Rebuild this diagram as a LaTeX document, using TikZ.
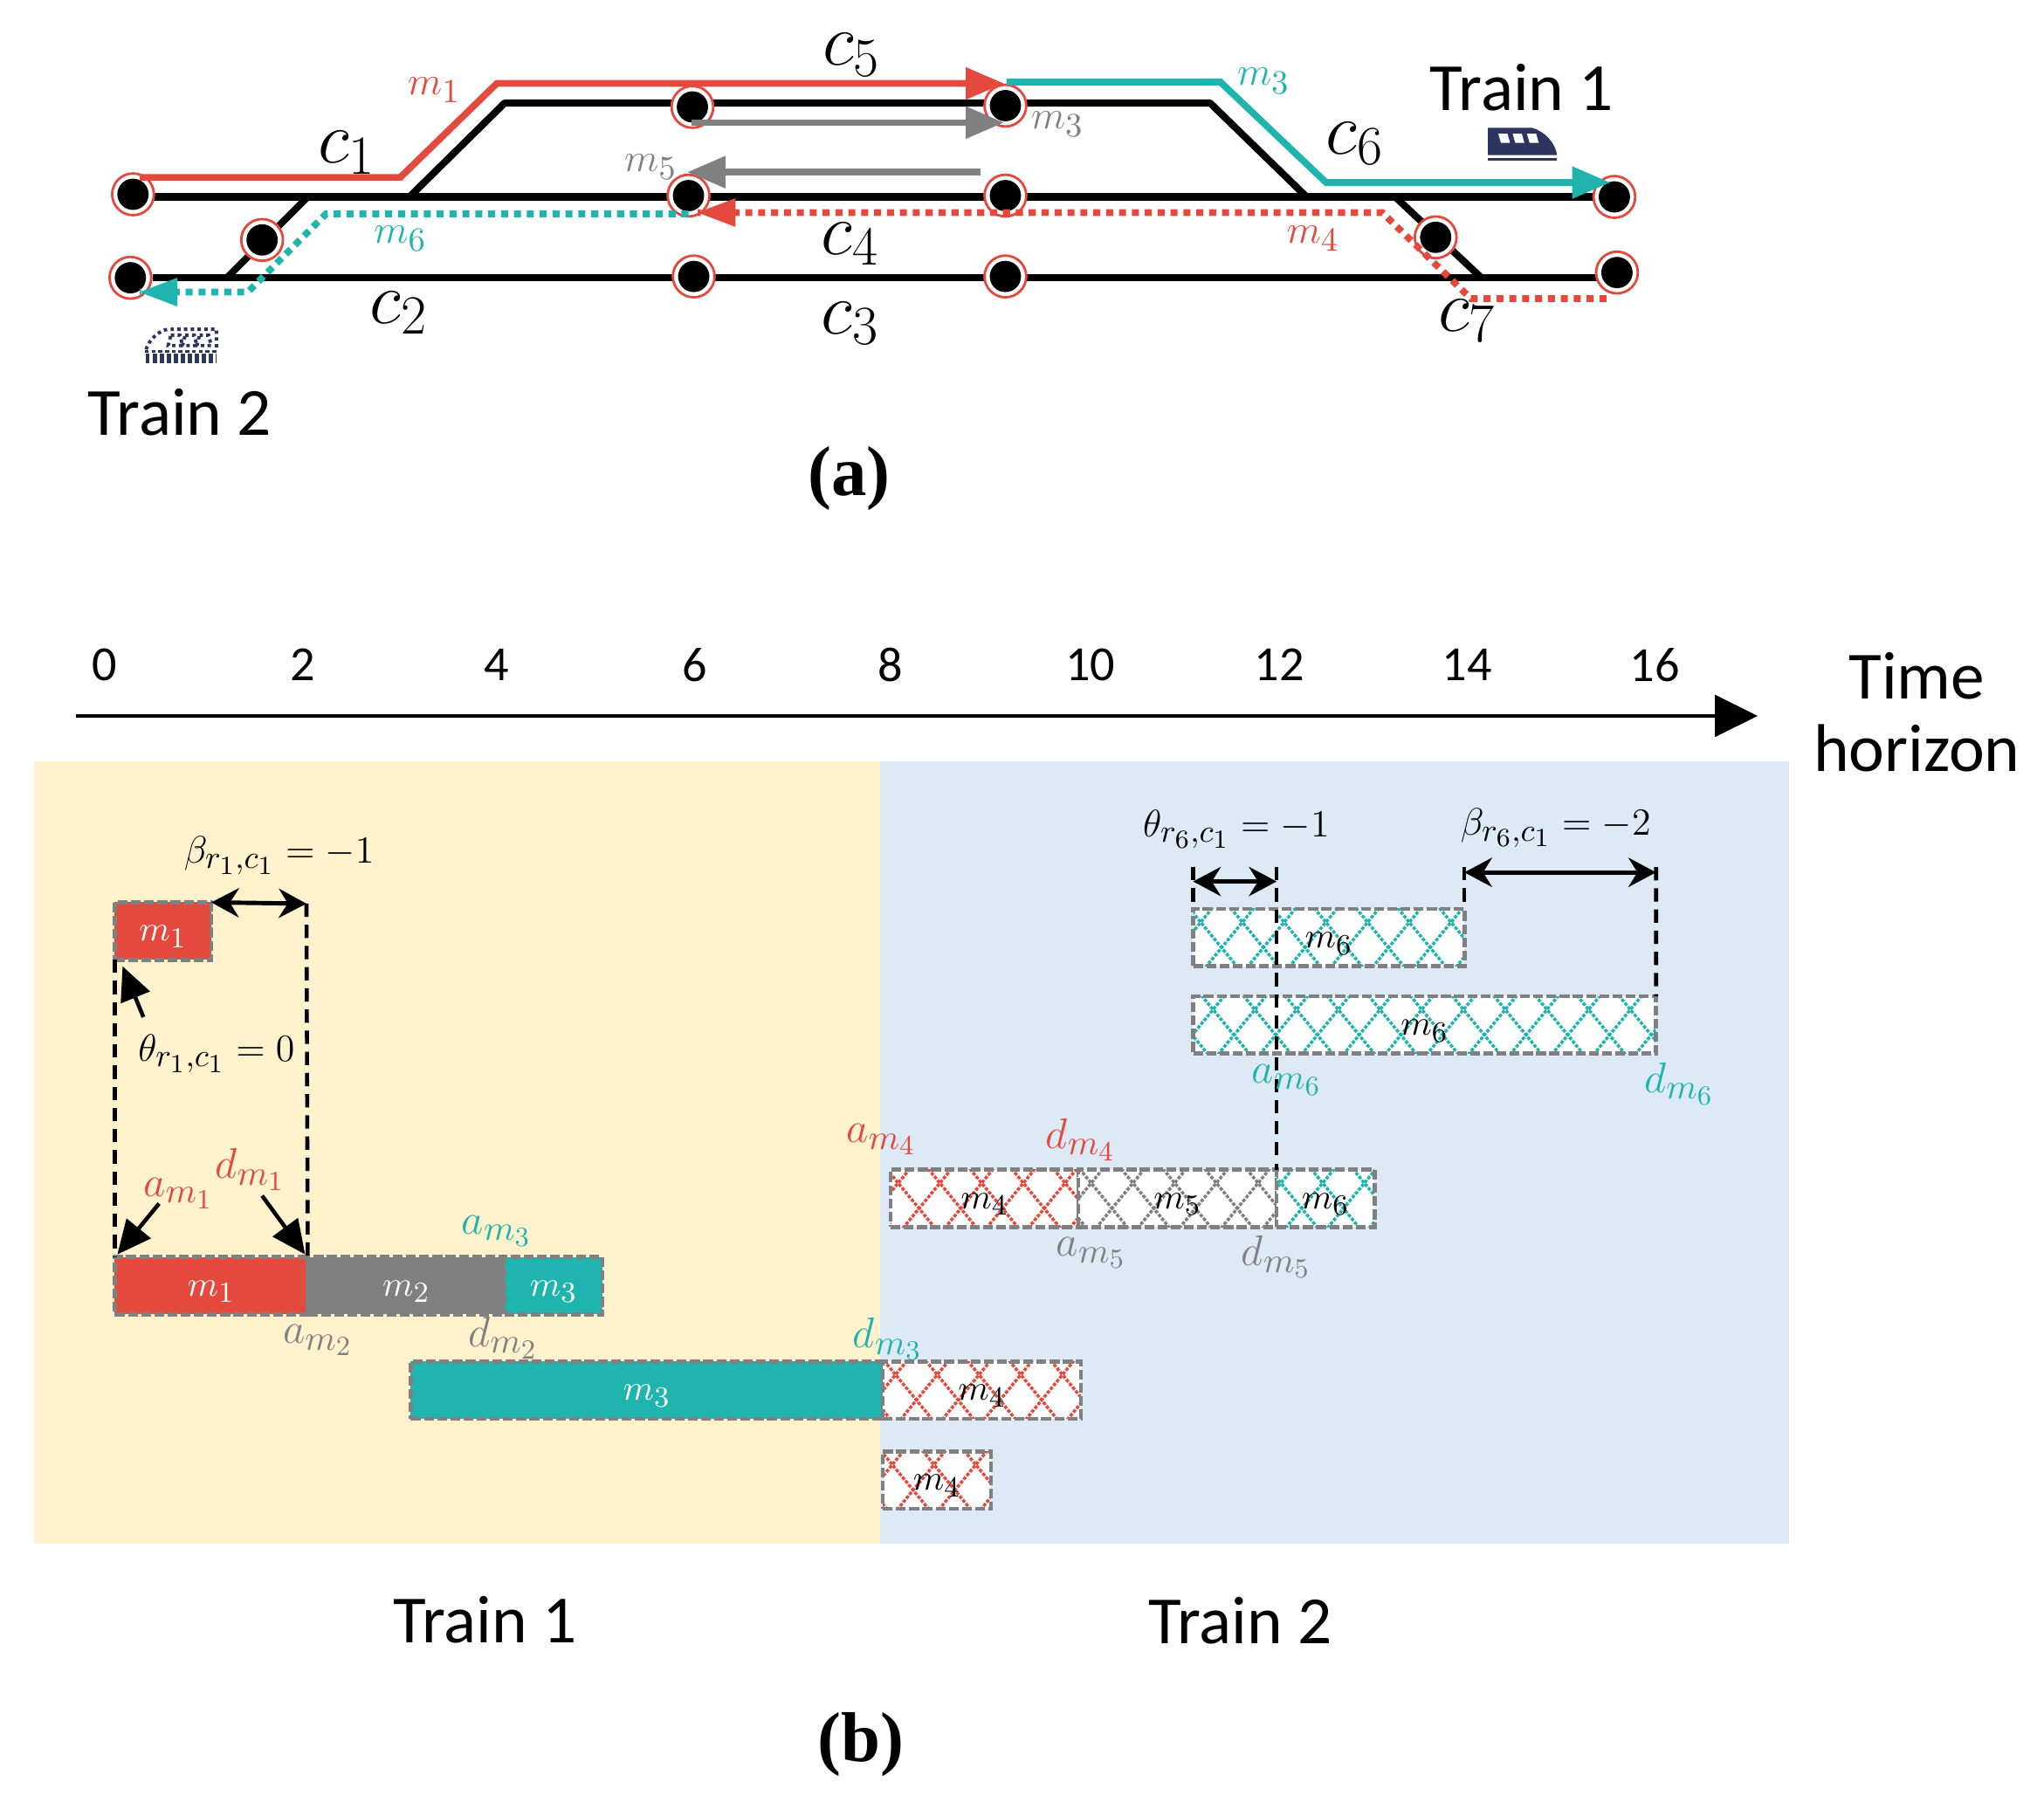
\RequirePackage{fix-cm}
\documentclass[tikz,border=0pt]{standalone}
\usepackage[no-math]{fontspec}
\usepackage{tikz}
\usetikzlibrary{positioning,arrows.meta,backgrounds}

\newfontfamily\labelfont{Carlito}
\newfontfamily\capfont{Liberation Serif}
\newlength{\du}
\setlength{\du}{0.014934cm}

% larger subscripts
\DeclareMathSizes{24}{24}{18}{14}
\DeclareMathSizes{13}{13}{11}{9}
\DeclareMathSizes{14}{14}{11.5}{9}
\DeclareMathSizes{12.5}{12.5}{10.5}{8.5}
\DeclareMathSizes{11.5}{11.5}{9.5}{7.5}

\definecolor{trred}{HTML}{E34A3D}
\definecolor{trteal}{HTML}{20B4AE}
\definecolor{trgray}{HTML}{808080}
\definecolor{trnavy}{HTML}{2B3560}
\definecolor{bgyellow}{HTML}{FFF2CC}
\definecolor{bgblue}{HTML}{DEE9F6}

\begin{document}
\begin{tikzpicture}[x=0.014934cm, y=-0.014934cm,
    station/.style={circle, draw=trred, line width=0.8pt, fill=white, minimum size=32\du, inner sep=0pt,
      path picture={\fill[black] (path picture bounding box.center) circle (12\du);}},
    track/.style={line width=2.3pt, line join=bevel},
    route/.style={line width=2.2pt, line join=miter},
    dotroute/.style={route, dash pattern=on 2.3pt off 1.9pt},
    routetip/.style={-{Triangle[length=12.5pt, width=10pt]}},
    cname/.style={font=\fontsize{24}{26}\selectfont, inner sep=0pt},
    mname/.style={font=\fontsize{13}{15}\selectfont, inner sep=0pt},
    timelabel/.style={font=\labelfont\fontsize{16}{20}\selectfont, inner sep=0pt},
    trainlabel/.style={font=\labelfont\fontsize{22}{26}\selectfont, inner sep=0pt, align=center},
    caption/.style={font=\capfont\bfseries\fontsize{23}{26}\selectfont, inner sep=0pt},
    bar/.style={draw=trgray, line width=1.35pt, dash pattern=on 3.2pt off 1.1pt, minimum height=44\du,
      inner sep=0pt, outer sep=0pt, text height=7.6pt, text depth=1pt, font=\fontsize{11.5}{14}\selectfont},
    solidbar/.style={bar, fill=#1, text=white},
    hatchbar/.style={bar, fill=white, path picture={
        \begin{scope}[shift={(path picture bounding box.north west)}]
          \foreach \k in {-6,...,18} {
            \draw[#1, line width=1pt, dash pattern=on 1.1pt off 0.5pt] (32*\k-65.6,-80) -- ++(131.2,160);
            \draw[#1, line width=1pt, dash pattern=on 1.1pt off 0.5pt] (32*\k+65.6,-80) -- ++(-131.2,160);
          };
        \end{scope}}},
    timemark/.style={font=\fontsize{14}{18}\selectfont, inner sep=0pt},
    dimlabel/.style={font=\fontsize{12.5}{16}\selectfont, inner sep=0pt},
    guide/.style={line width=1.3pt, dash pattern=on 4.3pt off 2.6pt},
    span/.style={line width=1.4pt, {Stealth[length=9pt, width=9.5pt]}-{Stealth[length=9pt, width=9.5pt]}},
    pointer/.style={line width=1.3pt, -{Triangle[length=11pt, width=10pt]}}
    ]
    \useasboundingbox (0,0) rectangle (1567.5,1376.7);

    % (a) stations
    \node[station] (n1) at (102,149) {};
    \node[station] (n2) at (201,184) {};
    \node[station] (n3) at (100,213) {};
    \node[station] (n4) at (531,82) {};
    \node[station] (n5) at (771,81) {};
    \node[station] (n6) at (528,150) {};
    \node[station] (n7) at (771,150) {};
    \node[station] (n8) at (532,212) {};
    \node[station] (n9) at (771,212) {};
    \node[station] (n10) at (1101,182) {};
    \node[station] (n11) at (1238,151) {};
    \node[station] (n12) at (1240,209) {};

    % track bends
    \coordinate (up1) at (314,151);
    \coordinate (up2) at (387,79);
    \coordinate (up3) at (928,79);
    \coordinate (up4) at (1002,151);
    \coordinate (lo1) at (236,151);
    \coordinate (lo2) at (174,213);
    \coordinate (lo3) at (1070,151);
    \coordinate (lo4) at (1136,213);

    \begin{scope}[on background layer]
      \draw[track] (n1 |- n11) -- (n11);
      \draw[track] (n3) -- (n3 -| n12);
      \draw[track] (up1) -- (up2) -- (up3) -- (up4);
      \draw[track] (lo1) -- (lo2);
      \draw[track] (lo3) -- (lo4);
    \end{scope}

    % (a) movements
    \coordinate (r1a) at (107,136);
    \coordinate (r1b) at (307,136);
    \coordinate (r1c) at (381,64);
    \coordinate (r1d) at (770,64);
    \draw[route, trred, routetip] (r1a) -- (r1b) -- (r1c) -- (r1d);
    \coordinate (r3a) at (772,63);
    \coordinate (r3b) at (936,63);
    \coordinate (r3c) at (1017,140);
    \coordinate (r3d) at (1235,140);
    \draw[route, trteal, routetip] (r3a) -- (r3b) -- (r3c) -- (r3d);
    \coordinate (g1a) at (530,94);
    \coordinate (g1b) at (770,94);
    \draw[route, trgray, routetip] (g1a) -- (g1b);
    \coordinate (g2a) at (752,132);
    \coordinate (g2b) at (527,132);
    \draw[route, trgray, routetip] (g2a) -- (g2b);
    \coordinate (r4a) at (1232,229);
    \coordinate (r4b) at (1128,229);
    \coordinate (r4c) at (1060,163);
    \coordinate (r4d) at (535,163);
    \draw[dotroute, trred] (r4a) -- (r4b) -- (r4c) -- (r4d);
    \fill[trred] (r4d) -- ++(29,-11) -- ++(0,22) -- cycle;
    \coordinate (r6a) at (528,164);
    \coordinate (r6b) at (250,164);
    \coordinate (r6c) at (190,224);
    \coordinate (r6d) at (107,224);
    \draw[dotroute, trteal] (r6a) -- (r6b) -- (r6c) -- (r6d);
    \fill[trteal] (r6d) -- ++(29,-11) -- ++(0,22) -- cycle;

    \node[cname] (c1) at (266,117) {$c_1$};
    \node[cname] (c2) at (306,240) {$c_2$};
    \node[cname] (c3) at (652,248) {$c_3$};
    \node[cname] (c4) at (652,187) {$c_4$};
    \node[cname] (c5) at (653,42) {$c_5$};
    \node[cname] (c6) at (1039,110) {$c_6$};
    \node[cname] (c7) at (1125,246) {$c_7$};

    \node[mname, text=trred] (lm1) at (333,69) {$m_1$};
    \node[mname, text=trteal] (lm3) at (969,62) {$m_3$};
    \node[mname, text=trgray] (lm3b) at (811,95) {$m_3$};
    \node[mname, text=trgray] (lm5) at (499,128) {$m_5$};
    \node[mname, text=trteal] (lm6) at (307,183) {$m_6$};
    \node[mname, text=trred] (lm4) at (1007,183) {$m_4$};

    \node[trainlabel] (train1) at (1167,67) {Train 1};
    \node[trainlabel] (train2) at (138,316) {Train 2};
    \node[caption] (capa) at (651,367) {(a)};

    % train icons
    \begin{scope}[shift={(1141,98)}]
      \fill[trnavy] (0,0) -- (34,0) .. controls (44,3) and (52,12) .. (53,21) -- (0,21) -- cycle;
      \fill[trnavy] (0,23.5) rectangle (53,25.5);
      \foreach \wx in {8,19,30} {
        \fill[white] (\wx,4.5) -- (\wx+7,4.5) -- (\wx+9,11.5) -- (\wx+2,11.5) -- cycle;
      };
    \end{scope}
    \begin{scope}[shift={(111,251)}]
      \draw[trnavy, line width=1.1pt, dash pattern=on 1.1pt off 1.1pt] (1,17) .. controls (3,10) and (11,2) .. (18,1.5) -- (55,1.5) -- (55,17);
      \foreach \wx in {20,31,42} {
        \draw[trnavy, line width=1.1pt, dash pattern=on 1.1pt off 1.1pt] (\wx,6) -- (\wx+7,6) -- (\wx+9,14) -- (\wx-2,14) -- cycle;
      };
      \draw[trnavy, line width=1.1pt, dash pattern=on 1.3pt off 0.9pt] (0,18.5) -- (56,18.5);
      \draw[trnavy, line width=3.2pt, dash pattern=on 1.4pt off 0.9pt] (0.5,24) -- (55,24);
    \end{scope}

    % (b) time axis
    \coordinate (axis0) at (58,549);
    \coordinate (axis1) at (1348,549);
    \draw[line width=1.3pt, -{Triangle[length=14pt, width=13.5pt]}] (axis0) to (axis1);
    \foreach \tlabel/\tx in {0/80,2/232,4/381,6/533,8/683,10/836,12/981,14/1125,16/1269} {
      \node[timelabel] (t\tlabel) at (\tx,510) {\tlabel};
    };
    \node[trainlabel] (horizon) at (1470,546) {Time\\[-2.5pt] horizon};

    % (b) panels
    \node[fill=bgyellow, anchor=north west, minimum width=649\du, minimum height=600\du, inner sep=0pt, outer sep=0pt] (panel1) at (26,584) {};
    \node[fill=bgblue, anchor=north west, minimum width=697\du, minimum height=600\du, inner sep=0pt, outer sep=0pt] (panel2) at (675,584) {};

    % Train 1 bars
    \node[solidbar=trred, anchor=north west, minimum width=74\du] (a1) at (88,692) {$m_1$};
    \node[solidbar=trred, anchor=north west, minimum width=148\du] (b1) at (88,964) {$m_1$};
    \node[solidbar=trgray, right=0pt of b1, minimum width=151\du] (b2) {$m_2$};
    \node[solidbar=trteal, right=0pt of b2, minimum width=75\du] (b3) {$m_3$};
    \node[solidbar=trteal, anchor=north west, minimum width=362\du] (d3) at (315,1044) {$m_3$};

    % Train 2 bars
    \node[hatchbar=trred, right=0pt of d3, minimum width=152\du] (d4) {$m_4$};
    \node[hatchbar=trred, anchor=north west, minimum width=83\du] (e4) at (677,1113) {$m_4$};
    \node[hatchbar=trred, anchor=north west, minimum width=144\du] (c4b) at (683,897) {$m_4$};
    \node[hatchbar=trgray, right=0pt of c4b, minimum width=152\du] (c5b) {$m_5$};
    \node[hatchbar=trteal, right=0pt of c5b, minimum width=75\du] (c6b) {$m_6$};
    \node[hatchbar=trteal, anchor=north west, minimum width=208\du] (f6) at (915,697) {$m_6$};
    \node[hatchbar=trteal, anchor=north west, minimum width=355\du] (g6) at (915,764) {$m_6$};

    % guides
    \coordinate (top1) at (235,693);
    \coordinate (top2) at (915,665);
    \coordinate (top3) at (979,665);
    \coordinate (top4) at (1123,665);
    \coordinate (top5) at (1270,665);
    \draw[guide] (a1.south west) to (b1.north west);
    \draw[guide] (top1) to (b1.north east);
    \draw[guide] (top2) to (f6.north west);
    \draw[guide] (top3) to (c5b.north east);
    \draw[guide] (top4) to (f6.north east);
    \draw[guide] (top5) to (g6.north east);

    \coordinate (sp1) at (915,676);
    \coordinate (sp2) at (979,676);
    \coordinate (sp3) at (1123,669);
    \coordinate (sp4) at (1270,669);
    \draw[span] (a1.north east) to (top1);
    \draw[span] (sp1) to (sp2);
    \draw[span] (sp3) to (sp4);

    \coordinate (pt1) at (110,780);
    \coordinate (pt2) at (94,741);
    \coordinate (pt3) at (122,923);
    \coordinate (pt4) at (90,962);
    \coordinate (pt5) at (201,917);
    \coordinate (pt6) at (234,962);
    \draw[pointer] (pt1) to (pt2);
    \draw[pointer] (pt3) to (pt4);
    \draw[pointer] (pt5) to (pt6);

    \node[dimlabel] (beta1) at (214,656) {$\beta_{r_1,c_1}=-1$};
    \node[dimlabel] (theta1) at (166,808) {$\theta_{r_1,c_1}=0$};
    \node[dimlabel] (theta6) at (948,636) {$\theta_{r_6,c_1}=-1$};
    \node[dimlabel] (beta6) at (1193,635) {$\beta_{r_6,c_1}=-2$};

    \node[timemark, text=trred] (am1) at (137,915) {$a_{m_1}$};
    \node[timemark, text=trred] (dm1) at (192,897) {$d_{m_1}$};
    \node[timemark, text=trgray] (am2) at (244,1028) {$a_{m_2}$};
    \node[timemark, text=trgray] (dm2) at (386,1026) {$d_{m_2}$};
    \node[timemark, text=trteal] (am3) at (381,944) {$a_{m_3}$};
    \node[timemark, text=trteal] (dm3) at (681,1027) {$d_{m_3}$};
    \node[timemark, text=trred] (am4) at (676,874) {$a_{m_4}$};
    \node[timemark, text=trred] (dm4) at (829,874) {$d_{m_4}$};
    \node[timemark, text=trgray] (am5) at (837,961) {$a_{m_5}$};
    \node[timemark, text=trgray] (dm5) at (979,964) {$d_{m_5}$};
    \node[timemark, text=trteal] (am6) at (987,828) {$a_{m_6}$};
    \node[timemark, text=trteal] (dm6) at (1288,831) {$d_{m_6}$};

    \node[trainlabel] (lab1) at (372,1242) {Train 1};
    \node[trainlabel] (lab2) at (951,1243) {Train 2};
    \node[caption] (capb) at (660,1338) {(b)};
  \end{tikzpicture}
\end{document}
